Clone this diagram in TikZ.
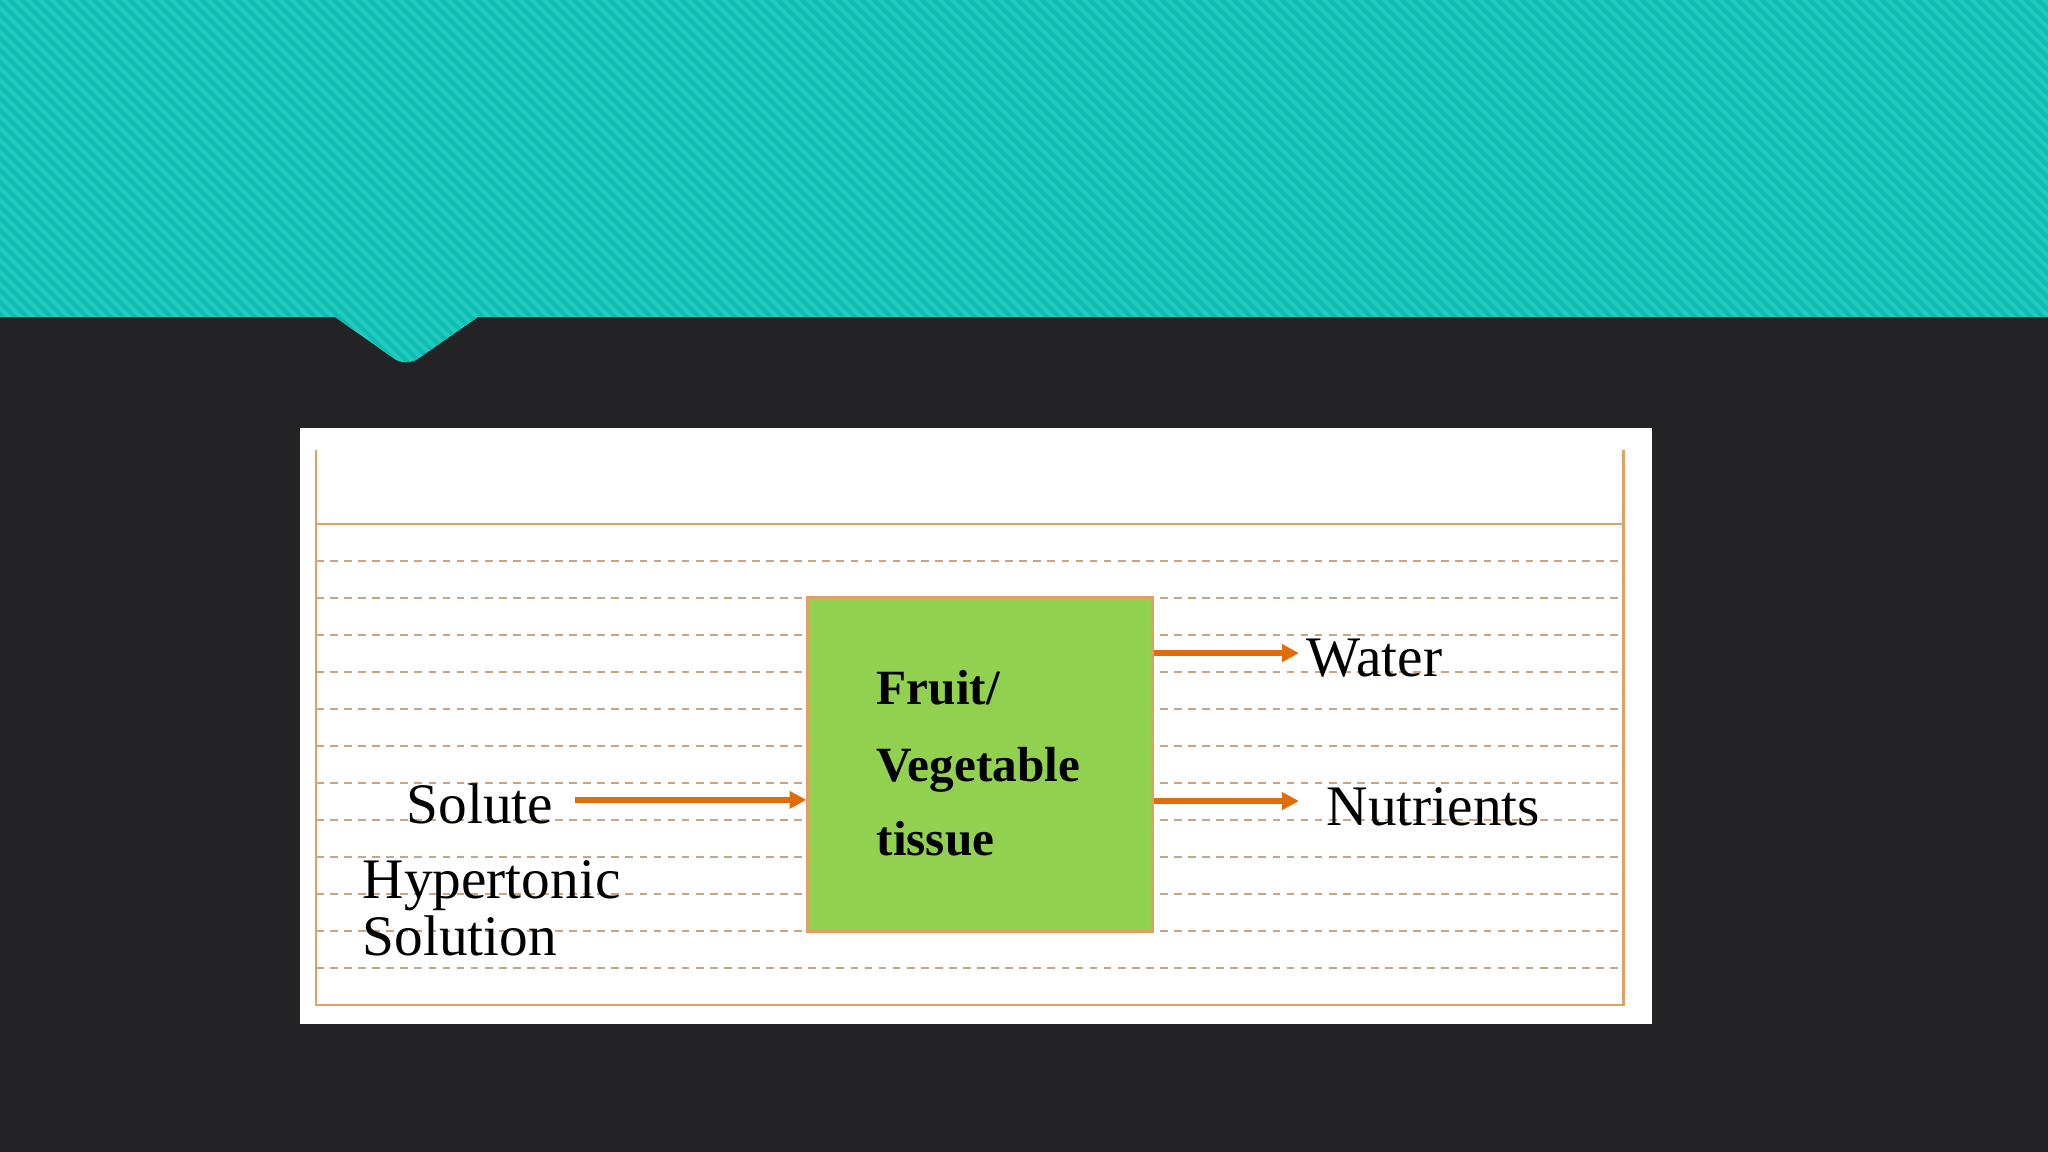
\documentclass[tikz,border=0pt]{standalone}
\usepackage{fontspec}
\setmainfont{Liberation Serif}
\usetikzlibrary{arrows.meta}
\definecolor{bandteal}{HTML}{22CABF}
\definecolor{stripeteal}{HTML}{0FBCB1}
\definecolor{slatebg}{HTML}{232224}
\definecolor{tankline}{HTML}{DFA062}
\definecolor{levelline}{HTML}{C9A584}
\definecolor{leafgreen}{HTML}{92D050}
\definecolor{floworange}{HTML}{E36C0A}
\begin{document}
\begin{tikzpicture}[
  x=0.01cm, y=-0.01cm,
  wall/.style={draw=tankline, line width=0.85pt},
  waterlevel/.style={draw=levelline, line width=0.8pt, dash pattern=on 2.2pt off 1.8pt},
  flowarrow/.style={draw=floworange, line width=1.6pt, -{Triangle[length=4.8pt,width=4.8pt]}},
  tanktext/.style={inner sep=0pt, anchor=base west, font=\fontsize{16.3}{17.4}\selectfont},
  tissuetext/.style={inner sep=0pt, anchor=base west, font=\fontsize{14}{16}\selectfont\bfseries},
  tissuebox/.style={draw=tankline, line width=0.85pt, fill=leafgreen, inner sep=0pt,
    minimum width=3.44cm, minimum height=3.33cm}
]
  \useasboundingbox (0,0) rectangle (2048,1152);
  \fill[slatebg] (0,0) rectangle (2048,1152);
  \begin{scope}
    \clip (0,0) -- (2048,0) -- (2048,317) -- (478,317)
      [rounded corners=4pt] -- (406,367) [sharp corners] -- (335,317) -- (0,317) -- cycle;
    \fill[bandteal] (0,0) rectangle (2048,400);
    \foreach \s in {-420,-408,...,2060}
      \draw[stripeteal, line width=1.2pt] (\s,-10) -- (\s+400,390);
  \end{scope}

  \fill[white] (300,428) rectangle (1652,1024);
  \foreach \y in {561,598,...,968}
    \draw[waterlevel] (316,\y) -- (1623,\y);
  \draw[wall] (316,450) -- (316,1005) -- (1623,1005) -- (1623,450);
  \draw[wall] (316,524) -- (1623,524);

  \node[tissuebox] (tissue) at (980,764.5) {};
  \node[tissuetext] (fruit) at (876,704) {Fruit/};
  \node[tissuetext] (vegetable) at (876,781) {Vegetable};
  \node[tissuetext] (tissuename) at (876,855) {tissue};

  \node[tanktext] (solute) at (406,823) {Solute};
  \node[tanktext] (hyper) at (362,898) {Hypertonic};
  \node[tanktext] (solution) at (362,955) {Solution};
  \node[tanktext] (water) at (1306,676) {Water};
  \node[tanktext] (nutrients) at (1326,825) {Nutrients};

  \draw[flowarrow] ([xshift=6pt,yshift=1pt]solute.east) -- ([yshift=1pt]tissue.west |- solute.east);
  \draw[flowarrow] ([yshift=1.3pt]tissue.east |- water.west) -- ([xshift=-2pt,yshift=1.3pt]water.west);
  \draw[flowarrow] ([yshift=1.5pt]tissue.east |- nutrients.west) -- ([xshift=-7.7pt,yshift=1.5pt]nutrients.west);
\end{tikzpicture}
\end{document}
